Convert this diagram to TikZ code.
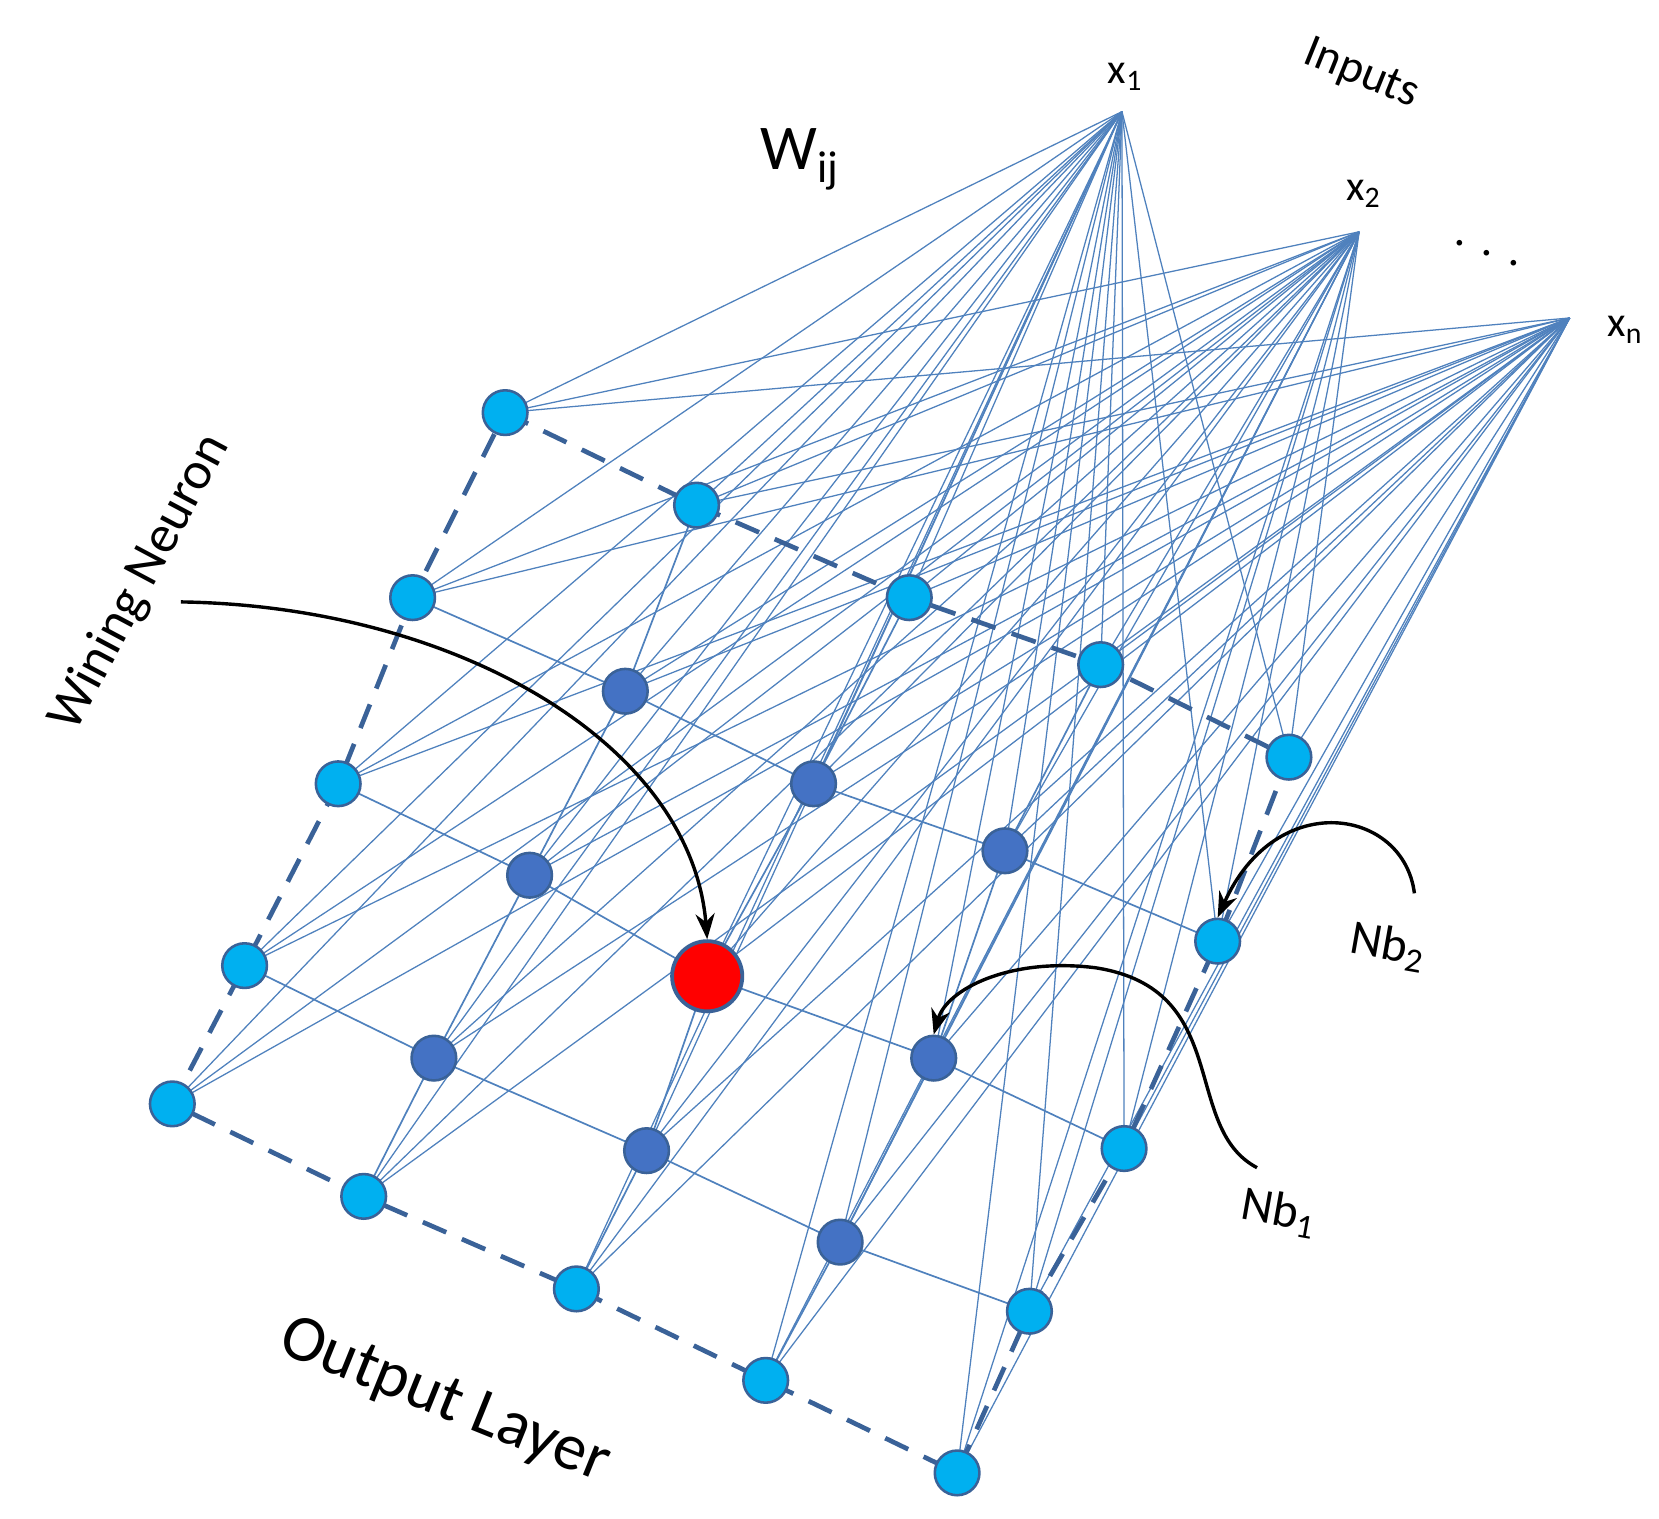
\documentclass[tikz,border=0pt]{standalone}
\usepackage{fontspec}
\setmainfont{Carlito}
\usetikzlibrary{arrows.meta}
\definecolor{wline}{HTML}{4F81BD}
\definecolor{cyanN}{HTML}{00B0F0}
\definecolor{darkN}{HTML}{4472C4}
\definecolor{edgeN}{HTML}{3A6298}
\tikzset{
  wire/.style={wline,line width=0.6pt},
  grid/.style={wline,line width=0.8pt},
  border/.style={edgeN,line width=2.2pt,dash pattern=on 12pt off 8pt},
  outer/.style={circle,fill=cyanN,draw=edgeN,line width=1.2pt,minimum size=21pt,inner sep=0pt},
  inner/.style={circle,fill=darkN,draw=edgeN,line width=1.2pt,minimum size=21pt,inner sep=0pt},
  win/.style={circle,fill=red,draw=edgeN,line width=1.8pt,minimum size=33pt,inner sep=0pt},
  lbl/.style={font=\fontsize{20}{24}\selectfont},
  arr/.style={black,line width=1.6pt,-{Stealth[length=12pt,width=9pt]}}
}
\begin{document}
\begin{tikzpicture}[x=0.5pt,y=-0.5pt]
\useasboundingbox (0,0) rectangle (1560,1428);
\coordinate (x1) at (1055,105);
\coordinate (x2) at (1278,218);
\coordinate (xn) at (1476,299);
\foreach \px/\py [count=\j from 0] in {475/388,655/475,855/562,1035/625,1212/712} \coordinate (n0\j) at (\px,\py);
\foreach \px/\py [count=\j from 0] in {388/562,588/650,765/737,945/800,1145/885} \coordinate (n1\j) at (\px,\py);
\foreach \px/\py [count=\j from 0] in {318/737,498/823,665/918,878/995,1057/1080} \coordinate (n2\j) at (\px,\py);
\foreach \px/\py [count=\j from 0] in {230/908,408/995,608/1082,790/1168,968/1233} \coordinate (n3\j) at (\px,\py);
\foreach \px/\py [count=\j from 0] in {162/1038,342/1125,542/1212,720/1298,900/1385} \coordinate (n4\j) at (\px,\py);
\foreach \s in {x1,x2,xn}
  \foreach \i in {0,...,4}
    \foreach \j in {0,...,4}
      \draw[wire] (\s) -- (n\i\j);
\foreach \i in {1,2,3} \draw[grid] (n\i0) -- (n\i1) -- (n\i2) -- (n\i3) -- (n\i4);
\foreach \j in {1,2,3} \draw[grid] (n0\j) -- (n1\j) -- (n2\j) -- (n3\j) -- (n4\j);
\draw[border] (n00) -- (n01) -- (n02) -- (n03) -- (n04) -- (n14) -- (n24) -- (n34) -- (n44)
  -- (n43) -- (n42) -- (n41) -- (n40) -- (n30) -- (n20) -- (n10) -- cycle;
\foreach \i/\j in {0/0,0/1,0/2,0/3,0/4,1/0,1/4,2/0,2/4,3/0,3/4,4/0,4/1,4/2,4/3,4/4}
  \node[outer] (N\i\j) at (n\i\j) {};
\foreach \i/\j in {1/1,1/2,1/3,2/1,2/3,3/1,3/2,3/3}
  \node[inner] (N\i\j) at (n\i\j) {};
\node[win] (N22) at (n22) {};
\node[lbl] (lx1) at (1058,72) {x\textsubscript{1}};
\node[lbl] (lx2) at (1282,182) {x\textsubscript{2}};
\node[lbl] (lxn) at (1528,310) {x\textsubscript{n}};
\node[font=\fontsize{22}{24}\selectfont,rotate=-22] (linp) at (1280,70) {Inputs};
\node[font=\fontsize{22}{24}\selectfont,rotate=-20] (ldots) at (1398,238) {.\hspace{8pt}.\hspace{8pt}.};
\node[font=\fontsize{30}{34}\selectfont] (lw) at (752,150) {W\textsubscript{ij}};
\node[font=\fontsize{25}{28}\selectfont,rotate=62] (lwin) at (132,548) {Wining Neuron};
\node[font=\fontsize{31}{34}\selectfont,rotate=-22] (lout) at (418,1318) {Output Layer};
\node[font=\fontsize{23}{26}\selectfont,rotate=-10] (lnb2) at (1305,890) {Nb\textsubscript{2}};
\node[font=\fontsize{23}{26}\selectfont,rotate=-10] (lnb1) at (1203,1140) {Nb\textsubscript{1}};
\coordinate (a1s) at (170,566);
\draw[arr] (a1s) .. controls (430,570) and (650,700) .. (N22.north);
\coordinate (a2s) at (1330,840);
\draw[arr] (a2s) .. controls (1320,760) and (1200,740) .. (N14.north);
\coordinate (a3s) at (1182,1098);
\coordinate (a3m) at (1030,910);
\draw[arr] (a3s) .. controls (1110,1060) and (1160,930) .. (a3m) .. controls (950,900) and (890,930) .. (N23.north);
\end{tikzpicture}
\end{document}
